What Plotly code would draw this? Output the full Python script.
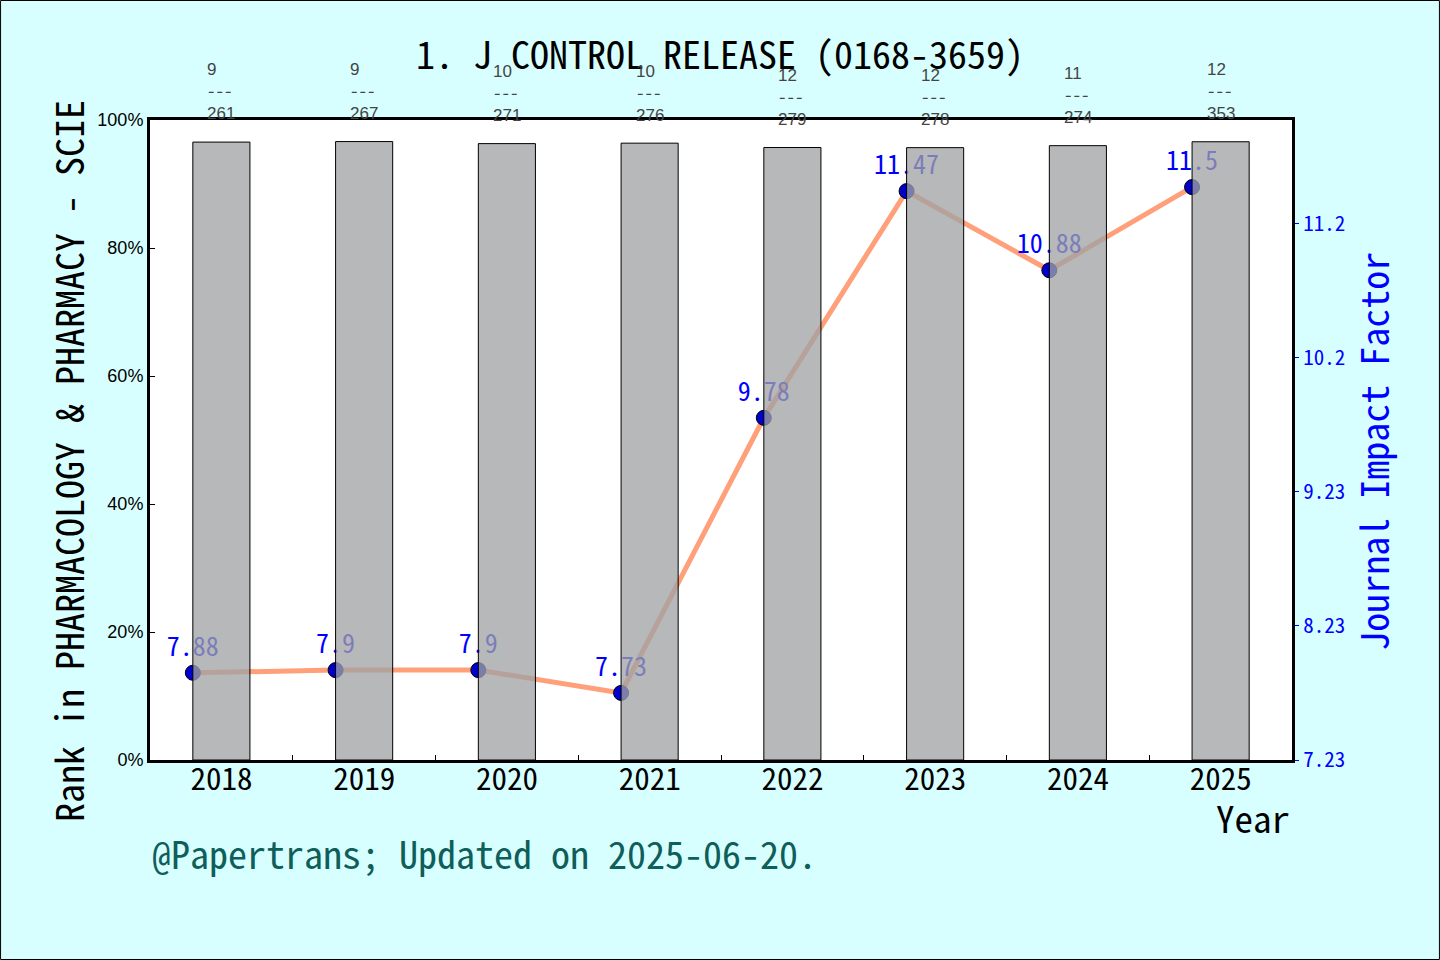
import plotly.graph_objects as go

years = ["2018", "2019", "2020", "2021", "2022", "2023", "2024", "2025"]
ranks = [9, 9, 10, 10, 12, 12, 11, 12]
totals = [261, 267, 271, 276, 279, 278, 274, 353]
rank_pct = [96.55, 96.63, 96.31, 96.38, 95.70, 95.68, 95.99, 96.60]
impact = [7.88, 7.9, 7.9, 7.73, 9.78, 11.47, 10.88, 11.5]
impact_labels = ["7.88", "7.9", "7.9", "7.73", "9.78", "11.47", "10.88", "11.5"]
pct_ticks = [0, 20, 40, 60, 80, 100]
pct_ticktext = ["0%", "20%", "40%", "60%", "80%", "100%"]
if_ticks = [7.23, 8.23, 9.23, 10.23, 11.23]
if_ticktext = ["7.23", "8.23", "9.23", "10.2", "11.2"]
if_range = [7.23, 12.0]

MONO = "Noto Sans Mono CJK SC, Liberation Mono, DejaVu Sans Mono, monospace"
SANS = "Liberation Sans, Arial, sans-serif"

xpos = list(range(len(years)))
line_x = [i - 0.2 for i in xpos]

fig = go.Figure()

# impact factor line (base subplot, drawn under bars)
fig.add_trace(go.Scatter(
    x=line_x, y=impact, mode="lines+markers+text",
    text=impact_labels, textposition="top center",
    textfont=dict(family=MONO, size=26, color="#0000FF"),
    line=dict(color="#FFA07A", width=5),
    marker=dict(color="#0000CD", size=15, line=dict(color="black", width=1)),
    xaxis="x", yaxis="y", cliponaxis=False, showlegend=False,
))

# rank bars (overlay subplot, drawn on top)
fig.add_trace(go.Bar(
    x=xpos, y=rank_pct, width=0.4,
    marker=dict(color="rgba(160,162,164,0.77)", line=dict(color="black", width=1)),
    xaxis="x", yaxis="y2", showlegend=False,
))

annotations = []
for i, (r, t, p) in enumerate(zip(ranks, totals, rank_pct)):
    annotations.append(dict(
        x=i, y=p + 2.6, xref="x", yref="y2", xanchor="center", yanchor="bottom",
        text=(f"{r}<br><span style=\"font-family:{MONO.split(',')[0]}\">---</span>"
              f"<br>{t}"),
        align="left", showarrow=False,
        font=dict(family=SANS, size=17, color="#444444"),
    ))

annotations += [
    dict(x=-0.0727, y=0.467, xref="paper", yref="paper", textangle=-90,
         text="Rank in PHARMACOLOGY & PHARMACY - SCIE", showarrow=False,
         xanchor="center", yanchor="middle",
         font=dict(family=MONO, size=38, color="black")),
    dict(x=1.0709, y=0.483, xref="paper", yref="paper", textangle=-90,
         text="Journal Impact Factor", showarrow=False,
         xanchor="center", yanchor="middle",
         font=dict(family=MONO, size=38, color="#0000FF")),
    dict(x=1.0, y=-0.089, xref="paper", yref="paper", text="Year",
         showarrow=False, xanchor="right", yanchor="middle",
         font=dict(family=MONO, size=37, color="black")),
    dict(x=0.0, y=-0.145, xref="paper", yref="paper",
         text="@Papertrans; Updated on 2025-06-20.", showarrow=False,
         xanchor="left", yanchor="middle",
         font=dict(family=MONO, size=38, color="#0E5E5A")),
]

fig.update_layout(
    width=1440, height=960,
    margin=dict(l=150, r=148, t=120, b=200),
    paper_bgcolor="#D8FFFF", plot_bgcolor="white",
    title=dict(text="1. J CONTROL RELEASE (0168-3659)", x=0.5, xanchor="center",
               y=1 - 56 / 960, yanchor="middle",
               font=dict(family=MONO, size=38, color="black")),
    xaxis=dict(range=[-0.5, 7.5], tickvals=xpos, ticktext=years, ticks="",
               showline=True, linecolor="black", linewidth=3, mirror=True,
               showgrid=False, zeroline=False, ticklabelstandoff=-10,
               tickfont=dict(family=MONO, size=31, color="black"),
               minor=dict(tickvals=[i + 0.5 for i in xpos[:-1]], ticks="inside",
                          ticklen=5, tickcolor="black", tickwidth=1)),
    yaxis=dict(range=if_range, side="right", tickvals=if_ticks, ticktext=if_ticktext,
               ticks="outside", ticklen=4, tickcolor="#0000FF",
               tickfont=dict(family=MONO, size=21, color="#0000FF"),
               showgrid=False, zeroline=False, showline=True, linecolor="black",
               linewidth=3, mirror=True),
    yaxis2=dict(range=[0, 100], overlaying="y", side="left", tickvals=pct_ticks,
                ticktext=pct_ticktext, ticks="inside", ticklen=5, tickcolor="black",
                tickfont=dict(family=SANS, size=18, color="black"),
                showgrid=False, zeroline=False, showline=True, linecolor="black",
                linewidth=3),
    annotations=annotations,
    shapes=[dict(type="rect", xref="paper", yref="paper",
                 x0=-150 / 1142 + 0.0005, x1=1 + 148 / 1142 - 0.0005,
                 y0=-200 / 640 + 0.0008, y1=1 + 120 / 640 - 0.0008,
                 line=dict(color="black", width=1), fillcolor="rgba(0,0,0,0)",
                 layer="below")],
    bargap=0.6,
)

fig.write_html("out.html")
